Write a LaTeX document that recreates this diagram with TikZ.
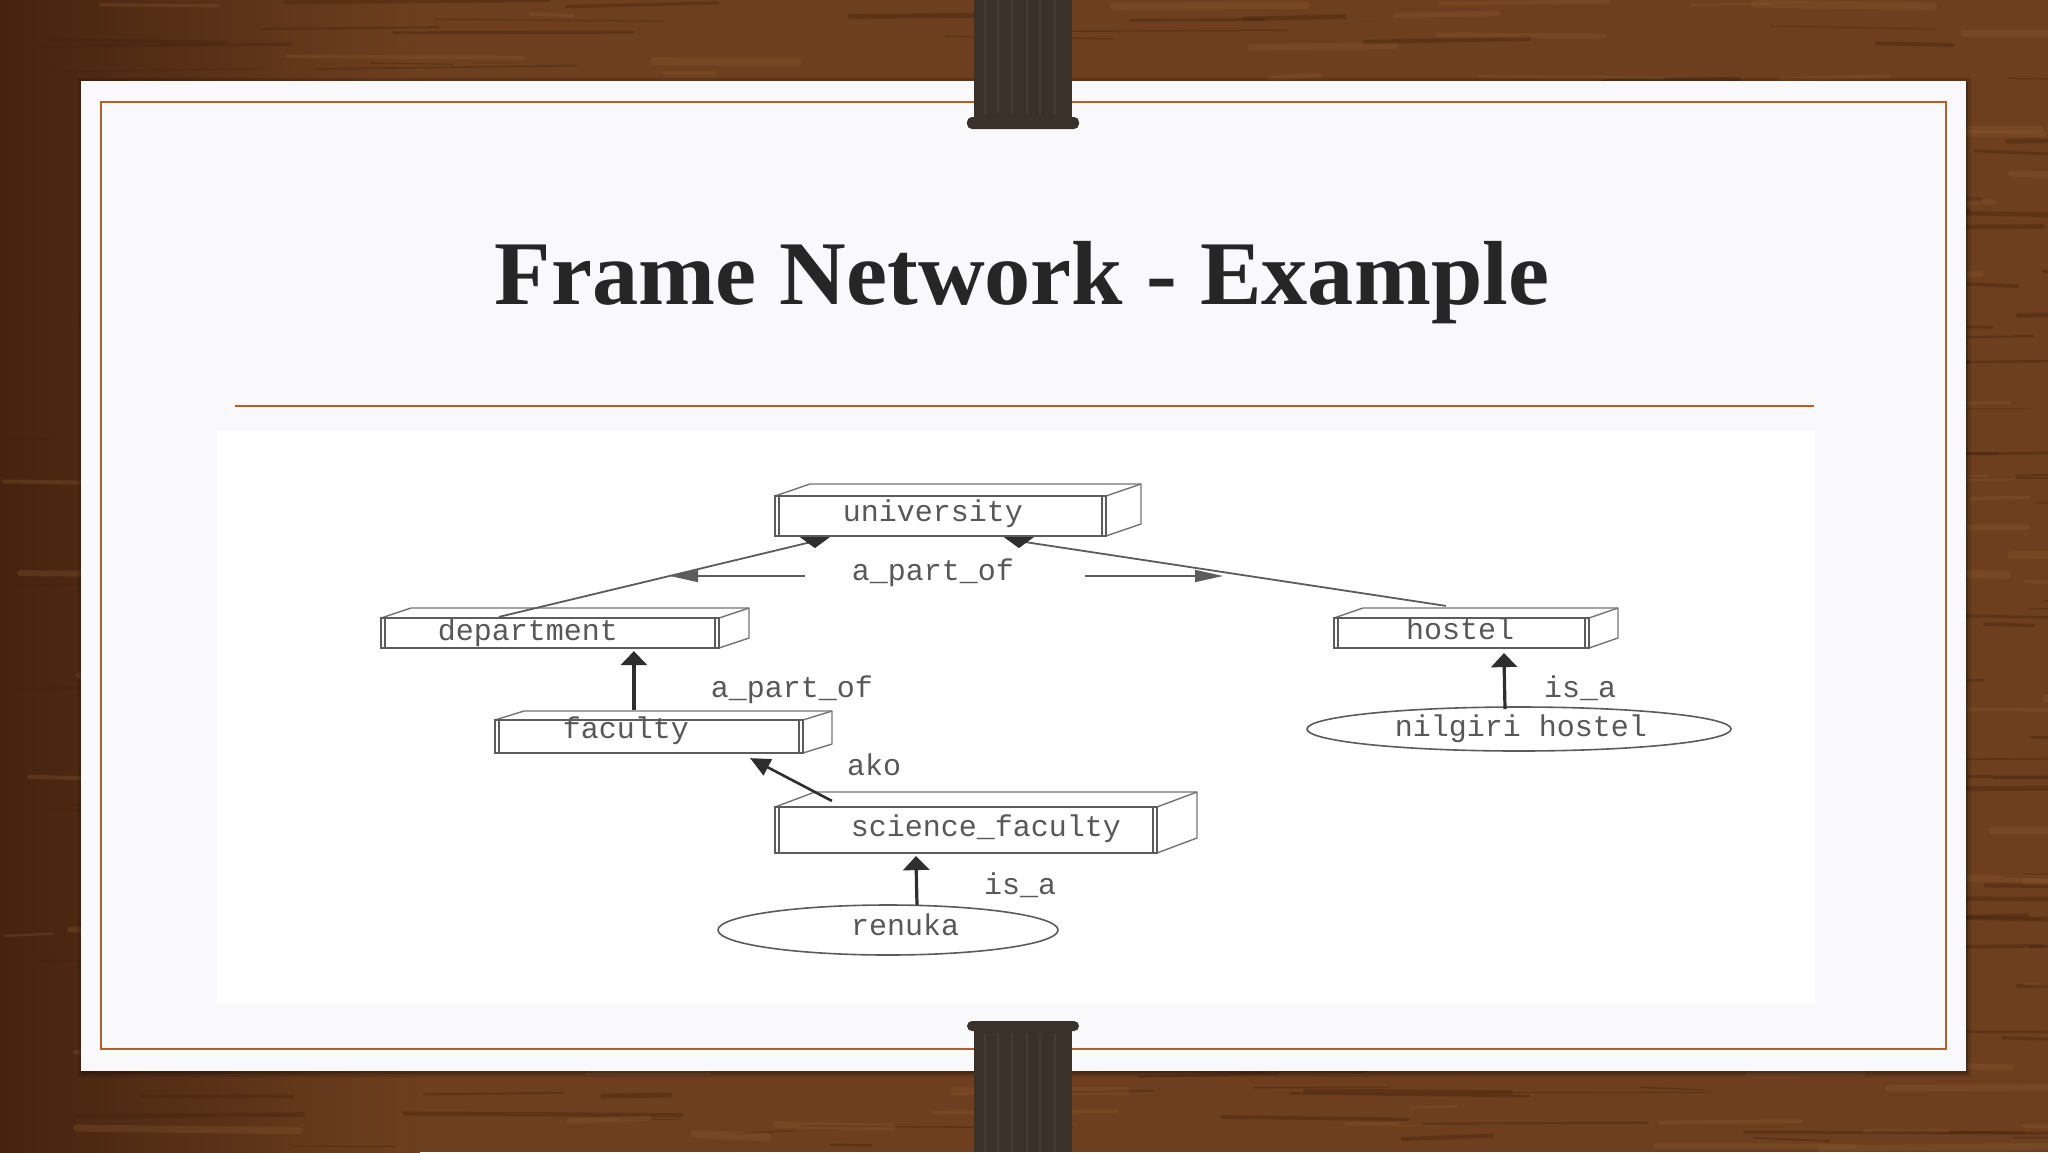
\documentclass[tikz,border=0pt]{standalone}
\usepackage{fontspec}
\setmainfont{Liberation Serif}
\newfontfamily\lblfont{Liberation Mono}
\usetikzlibrary{arrows.meta,calc,shapes.geometric}
\definecolor{woodA}{HTML}{6E3F1E}
\definecolor{woodB}{HTML}{45230F}
\definecolor{woodC}{HTML}{8C5A33}
\definecolor{cardbg}{HTML}{F9F9FB}
\definecolor{frameor}{HTML}{B65E2A}
\definecolor{clipc}{HTML}{3A312B}
\definecolor{titlec}{HTML}{262626}
\definecolor{boxline}{HTML}{5C5C5C}
\definecolor{lblc}{HTML}{585858}
\definecolor{arrc}{HTML}{2E2E2E}
\newcommand\cuboid[7]{%
  \path[face] (#2,#3) -- ++(#6,#7) -- ({#4+#6},{#3+#7}) -- ({#4+#6},{#5+#7}) -- (#4,#5) -- (#4,#3) -- cycle;
  \draw[face] (#4,#3) -- ++(#6,#7);
  \node[frontbox, minimum width={(#4-#2)*1pt}, minimum height={(#5-#3)*1pt}] (#1) at ({(#2+#4)/2},{(#3+#5)/2}) {};
  \draw[boxline, line width=1.2pt] ({#2+4},{#3+1}) -- ({#2+4},{#5-1});
  \draw[boxline, line width=1.2pt] ({#4-4},{#3+1}) -- ({#4-4},{#5-1});
}
\begin{document}
\begin{tikzpicture}[x=1pt,y=-1pt,
  frontbox/.style={draw=boxline, line width=2.2pt, fill=white, inner sep=0pt, rectangle},
  face/.style={draw=boxline!85, line width=1.4pt, fill=white, line join=round},
  lbl/.style={font=\lblfont\fontsize{30}{30}\selectfont, text=lblc, anchor=base, inner sep=0pt},
  ell/.style={draw=boxline, line width=1.6pt, fill=white, ellipse, inner sep=0pt},
  thinline/.style={draw=boxline, line width=1.8pt},
  uparrow/.style={draw=arrc, line width=3.2pt, -{Triangle[length=14pt,width=26pt]}},
  akoarrow/.style={draw=arrc, line width=2.6pt, -{Triangle[length=20pt,width=18pt]}},
  harrow/.style={draw=boxline, line width=1.6pt, -{Triangle[length=28pt,width=12pt]}},
]
\useasboundingbox (0,0) rectangle (2048,1152);
% wood background
\fill[woodA] (0,0) rectangle (2048,1152);
\shade[left color=woodB, right color=woodA] (0,0) rectangle (420,1152);
\pgfmathsetseed{42}
\foreach \i in {1,...,320} {
  \pgfmathsetmacro\xx{rnd*2048}
  \pgfmathsetmacro\yy{rnd*1152}
  \pgfmathsetmacro\ll{40+rnd*240}
  \pgfmathsetmacro\ww{1+rnd*4}
  \draw[woodB, opacity=0.4, line width=\ww pt, line cap=round] (\xx,\yy) -- ++(\ll,{(rnd-0.5)*8});
}
\foreach \i in {1,...,200} {
  \pgfmathsetmacro\xx{rnd*2048}
  \pgfmathsetmacro\yy{rnd*1152}
  \pgfmathsetmacro\ll{40+rnd*200}
  \pgfmathsetmacro\ww{2+rnd*6}
  \draw[woodC, opacity=0.3, line width=\ww pt, line cap=round] (\xx,\yy) -- ++(\ll,{(rnd-0.5)*6});
}
% card
\fill[black, opacity=0.15] (78,78) rectangle (1971,1077);
\fill[black, opacity=0.2] (81,82) rectangle (1968,1074);
\fill[cardbg] (81,81) rectangle (1966,1071);
\draw[frameor, line width=2.5pt] (101,102) rectangle (1946,1049);
% title
\node[font=\bfseries\fontsize{91}{91}\selectfont, text=titlec, anchor=base, inner sep=0pt, xscale=1.015] (title) at (1022,304) {Frame Network - Example};
\draw[frameor, line width=2.5pt] (235,406) -- (1814,406);
% image area
\fill[white] (217,431) rectangle (1815,1003);
% boxes
\cuboid{univ}{775}{496}{1106}{536}{35}{-12}
\cuboid{dep}{381}{618}{719}{648}{30}{-10}
\cuboid{fac}{495}{720}{803}{753}{29}{-9}
\cuboid{sci}{775}{807}{1157}{853}{40}{-15}
\cuboid{host}{1334}{618}{1589}{648}{29}{-10}
% ellipses
\node[ell, minimum width=340pt, minimum height=50pt] (ren) at (888,930) {};
\node[ell, minimum width=424pt, minimum height=44pt] (nil) at (1519,729) {};
% labels
\node[lbl] (tuniv) at (933,521) {university};
\node[lbl] (tdep) at (528,640) {department};
\node[lbl] (tfac) at (626,738) {faculty};
\node[lbl] (tsci) at (986,836) {science\_faculty};
\node[lbl] (thost) at (1460,639) {hostel};
\node[lbl] (tren) at (905,935) {renuka};
\node[lbl] (tnil) at (1521,736) {nilgiri hostel};
\node[lbl] (lpart1) at (933,580) {a\_part\_of};
\node[lbl] (lpart2) at (792,697) {a\_part\_of};
\node[lbl] (lako) at (874,775) {ako};
\node[lbl] (lisa1) at (1020,894) {is\_a};
\node[lbl] (lisa2) at (1580,697) {is\_a};
% connectors
\coordinate (ua) at ($(univ.south west)+(41,4)$);
\coordinate (ub) at ($(univ.south west)+(245,4)$);
\draw[thinline] (ua) -- ($(dep.north west)+(119,0)$);
\draw[thinline] (ub) -- ($(host.north west)+(113,-11)$);
\fill[arrc] ($(ua)+(-15,-4)$) -- ($(ua)+(15,-4)$) -- ($(ua)+(0,7)$) -- cycle;
\fill[arrc] ($(ub)+(-15,-4)$) -- ($(ub)+(15,-4)$) -- ($(ub)+(0,7)$) -- cycle;
\coordinate (hl1) at (805,576);
\coordinate (hl2) at (670,576);
\coordinate (hr1) at (1085,576);
\coordinate (hr2) at (1223,576);
\draw[harrow] (hl1) -- (hl2);
\draw[harrow] (hr1) -- (hr2);
\draw[uparrow] ($(fac.north west)+(140,-9)$) -- ($(dep.south west)+(254,2)$);
\draw[uparrow] ($(nil.north)+(-14,3)$) -- ($(host.south west)+(171,4)$);
\draw[uparrow] ($(ren.north)+(29,1)$) -- ($(sci.south west)+(142,2)$);
\draw[akoarrow] ($(sci.north west)+(58,-5)$) -- ($(fac.south east)+(-54,4)$);
% clips
\fill[clipc] (974,0) rectangle (1072,127);
\fill[clipc, rounded corners=5pt] (967,117) rectangle (1079,129);
\fill[clipc] (974,1023) rectangle (1072,1152);
\fill[clipc, rounded corners=5pt] (967,1021) rectangle (1079,1031);
\foreach \xx in {985,998,1012,1027,1040,1055} {
  \draw[white, opacity=0.05, line width=2pt] (\xx,0) -- (\xx,115);
  \draw[white, opacity=0.05, line width=2pt] (\xx,1033) -- (\xx,1152);
}
\end{tikzpicture}
\end{document}
